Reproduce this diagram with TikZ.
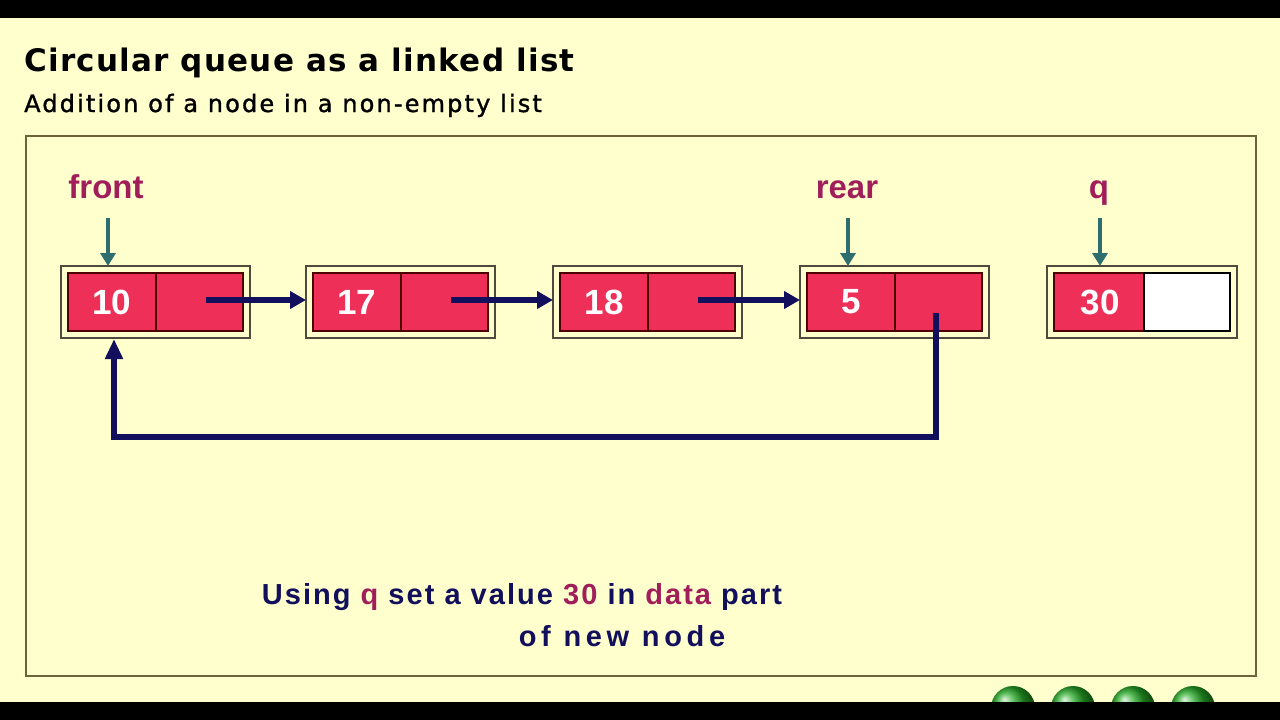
\documentclass[tikz,border=0pt]{standalone}
\usepackage{fontspec}
\setmainfont{Liberation Sans}
\newfontfamily\dvs{DejaVu Sans}
\usetikzlibrary{arrows.meta}
\definecolor{bg}{RGB}{255,255,206}
\definecolor{cell}{RGB}{238,48,88}
\definecolor{navy}{RGB}{18,16,92}
\definecolor{teal2}{RGB}{46,110,110}
\definecolor{maroon}{RGB}{160,30,90}
\definecolor{frame}{RGB}{110,100,60}
\tikzset{
 outer/.style={draw=black!80!yellow,fill=bg,line width=1.6pt},
 redc/.style={draw=black!70!red,fill=cell,line width=2.5pt},
 val/.style={text=white,font=\fontsize{35}{35}\selectfont\bfseries},
 link/.style={navy,line width=6pt,-{Triangle[length=16pt,width=17pt]}},
 lab/.style={text=maroon,font=\fontsize{33}{33}\selectfont\bfseries,anchor=base},
 ptr/.style={teal2,line width=4.5pt,-{Triangle[length=13pt,width=15pt]}},
 btxt/.style={font=\fontsize{29}{29}\selectfont\bfseries,text=navy,anchor=base},
}
\begin{document}
\begin{tikzpicture}[x=1pt,y=-1pt]
\fill[bg] (0,0) rectangle (1280,720);
\useasboundingbox (0,0) rectangle (1280,720);
\node[anchor=base west,inner sep=0pt,font=\dvs\fontsize{31}{31}\selectfont\bfseries\addfontfeature{LetterSpace=4}] (title) at (24,71) {Circular queue as a linked list};
\node[anchor=base west,inner sep=0pt,font=\dvs\fontsize{24}{24}\selectfont\addfontfeature{FakeBold=1.3,LetterSpace=9}] (sub) at (24,112) {Addition of a node in a non-empty list};
\draw[frame,line width=2pt] (26,136) rectangle (1256,676);
% nodes
\foreach \i/\x/\v in {1/61/10,2/306/17,3/553/18,4/800/5}{
 \draw[outer] (\x,266) rectangle ++(189,72);
 \draw[redc] (\x+7,273) rectangle ++(175,58);
 \draw[black!70!red,line width=2.5pt] (\x+95,273) -- (\x+95,331);
 \node[val] (v\i) at (\x+51,302) {\v};
 \coordinate (p\i) at (\x+145,300);
 \coordinate (in\i) at (\x,300);
}
\draw[outer] (1047,266) rectangle ++(190,72);
\draw[redc] (1054,273) rectangle ++(90,58);
\draw[black,fill=white,line width=2.5pt] (1144,273) rectangle (1230,331);
\node[val] (v5) at (1100,302) {30};
\draw[link] (p1) -- (in2);
\draw[link] (p2) -- (in3);
\draw[link] (p3) -- (in4);
\coordinate (lp) at (936,313);
\coordinate (lt) at (114,339);
\draw[link,-{Triangle[length=20pt,width=17pt]}] (lp) -- (936,437) -- (114,437) -- (lt);
% labels
\node[lab] (front) at (106,198) {front};
\node[lab] (rear) at (847,198) {rear};
\node[lab] (q) at (1099,198) {q};
\coordinate (f1) at (108,218); \coordinate (f2) at (108,266);
\coordinate (r1) at (848,218); \coordinate (r2) at (848,266);
\coordinate (q1) at (1100,218); \coordinate (q2) at (1100,266);
\draw[ptr] (f1) -- (f2);
\draw[ptr] (r1) -- (r2);
\draw[ptr] (q1) -- (q2);
% text
\node[btxt,font=\fontsize{29}{29}\selectfont\bfseries\addfontfeature{LetterSpace=7}] (t1) at (522,604) {Using \textcolor{maroon}{q} set a value \textcolor{maroon}{30} in \textcolor{maroon}{data} part};
\node[btxt,font=\fontsize{29}{29}\selectfont\bfseries\addfontfeature{LetterSpace=16}] (t2) at (622,646) {of new node};
% spheres
\foreach \x in {1013,1073,1133,1193}{
 \shade[ball color=green!60!black!85!white] (\x,708) circle (22);
}
\fill[black] (0,0) rectangle (1280,18);
\fill[black] (0,702) rectangle (1280,720);
\end{tikzpicture}
\end{document}
